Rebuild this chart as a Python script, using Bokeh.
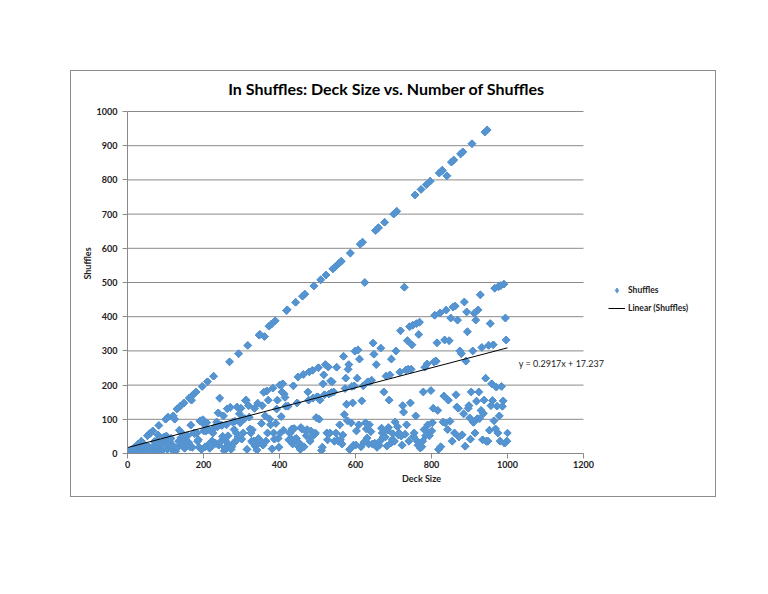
import math
from bokeh.plotting import figure
from bokeh.models import (ColumnDataSource, Range1d, SingleIntervalTicker, Label,
                          Legend, LegendItem)
from bokeh.embed import file_html
from bokeh.resources import INLINE

# ---------------- data ----------------
# Number of in-shuffles needed to restore the deck; deck sizes 2k and 2k+1
# share the same count (entry k), entry 0 is deck size 1.
shuffles_per_pair = [
    1, 2, 4, 3, 6, 10, 12, 4, 8, 18, 6, 11, 20, 18, 28, 5, 10, 12, 36, 12,
    20, 14, 12, 23, 21, 8, 52, 20, 18, 58, 60, 6, 12, 66, 22, 35, 9, 20, 30, 39,
    54, 82, 8, 28, 11, 12, 10, 36, 48, 30, 100, 51, 12, 106, 36, 36, 28, 44, 12, 24,
    110, 20, 100, 7, 14, 130, 18, 36, 68, 138, 46, 60, 28, 42, 148, 15, 24, 20, 52, 52,
    33, 162, 20, 83, 156, 18, 172, 60, 58, 178, 180, 60, 36, 40, 18, 95, 96, 12, 196, 99,
    66, 84, 20, 66, 90, 210, 70, 28, 15, 18, 24, 37, 60, 226, 76, 30, 29, 92, 78, 119,
    24, 162, 84, 36, 82, 50, 110, 8, 16, 36, 84, 131, 52, 22, 268, 135, 12, 20, 92, 30,
    70, 94, 36, 60, 136, 48, 292, 116, 90, 132, 42, 100, 60, 102, 102, 155, 156, 12, 316, 140,
    106, 72, 60, 36, 69, 30, 36, 132, 21, 28, 10, 147, 44, 346, 348, 36, 88, 140, 24, 179,
    342, 110, 36, 183, 60, 156, 372, 100, 84, 378, 14, 191, 60, 42, 388, 88, 130, 156, 44, 18,
    200, 60, 108, 180, 204, 68, 174, 164, 138, 418, 420, 138, 40, 60, 60, 43, 72, 28, 198, 73,
    42, 442, 44, 148, 224, 20, 30, 12, 76, 72, 460, 231, 20, 466, 66, 52, 70, 180, 156, 239,
    36, 66, 48, 243, 162, 490, 56, 60, 105, 166, 166, 251, 100, 156, 508, 9, 18, 204, 230, 172,
    260, 522, 60, 40, 253, 174, 60, 212, 178, 210, 540, 180, 36, 546, 60, 252, 39, 36, 556, 84,
    40, 562, 28, 54, 284, 114, 190, 220, 144, 96, 246, 260, 12, 586, 90, 196, 148, 24, 198, 299,
    25, 66, 220, 303, 84, 276, 612, 20, 154, 618, 198, 33, 500, 90, 72, 45, 210, 28, 84, 210,
    64, 214, 28, 323, 290, 30, 652, 260, 18, 658, 660, 24, 36, 308, 74, 60, 48, 180, 676, 48,
    226, 22, 68, 76, 156, 230, 30, 276, 40, 58, 700, 36, 92, 300, 708, 78, 55, 60, 238, 359,
    51, 24, 140, 121, 486, 56, 244, 84, 330, 246, 36, 371, 148, 246, 318, 375, 50, 60, 756, 110,
    380, 36, 24, 348, 384, 16, 772, 20, 36, 180, 70, 252, 52, 786, 262, 84, 60, 52, 796, 184,
    66, 90, 132, 268, 404, 270, 270, 324, 126, 12, 820, 411, 20, 826, 828, 92, 168, 332, 90, 419,
    812, 70, 156, 330, 94, 396, 852, 36, 428, 858, 60, 431, 172, 136, 390, 132, 48, 300, 876, 292,
    55, 882, 116, 443, 21, 270, 414, 356, 132, 140, 104, 42, 180, 906, 300, 91, 410, 60, 390, 153,
    102, 420, 180, 102, 464, 126, 310, 40, 117, 156, 940, 220, 36, 946, 36, 316, 68, 380, 140, 204,
    155, 318, 96, 483, 72, 194, 138, 60, 488, 110, 36, 491, 196, 138, 154, 495, 30, 396, 332, 36,
    60,
]
deck_sizes = list(range(1, 1001))
shuffles = [shuffles_per_pair[n // 2] for n in deck_sizes]

x_axis_max = 1200
y_axis_max = 1000
y_gridlines = [100, 200, 300, 400, 500, 600, 700, 800, 900, 1000]

trend_slope = 0.2917
trend_intercept = 17.237
trend_text = "y = 0.2917x + 17.237"

title_text = "In Shuffles: Deck Size vs. Number of Shuffles"
x_title = "Deck Size"
y_title = "Shuffles"
series_name = "Shuffles"
trend_name = "Linear (Shuffles)"

# ---------------- styles / layout ----------------
FONT = "Lato"
BLUE = "#5594D0"
GRID = "#8a8a8a"
W, H = 646, 427                   # chart box
BL, BB, BT, BR = 56, 45, 2, 2     # borders around the (extended) frame
XS = 456 / x_axis_max             # px per x unit
YS = 342 / y_axis_max             # px per y unit
x_end = (W - BL - BR) / XS
y_end = (H - BB - BT) / YS

src = ColumnDataSource(dict(deck=deck_sizes, shuffles=shuffles))

p = figure(width=W, height=H, output_backend="svg", toolbar_location=None,
           x_range=Range1d(0, x_end), y_range=Range1d(0, y_end),
           min_border_left=BL, min_border_right=BR, min_border_top=BT,
           min_border_bottom=BB, margin=(70, 0, 0, 70),
           styles={"border": "1px solid #8c8c8c"})
p.outline_line_color = None
p.background_fill_color = "white"
p.border_fill_color = "white"
p.xgrid.visible = False
p.ygrid.visible = False

p.xaxis.ticker = SingleIntervalTicker(interval=200)
p.yaxis.ticker = SingleIntervalTicker(interval=100)
p.xaxis.bounds = (0, x_axis_max)
p.yaxis.bounds = (0, y_axis_max)

for ax in (p.xaxis[0], p.yaxis[0]):
    ax.axis_line_color = GRID
    ax.major_tick_line_color = GRID
    ax.minor_tick_line_color = None
    ax.major_tick_in = 0
    ax.major_tick_out = 5
    ax.major_label_text_font = FONT
    ax.major_label_text_font_style = "bold"
    ax.major_label_text_font_size = "9px"
    ax.major_label_text_color = "#222222"
    ax.axis_label_text_font = FONT
    ax.axis_label_text_font_style = "bold"
    ax.axis_label_text_font_size = "9px"
    ax.axis_label_text_color = "#222222"

p.xaxis.axis_label = x_title
p.yaxis.axis_label = y_title
p.xaxis.major_label_standoff = 2
p.xaxis.axis_label_standoff = 2
p.yaxis.major_label_standoff = 5
p.yaxis.axis_label_standoff = 1

# horizontal gridlines across the plot area only
p.segment(x0=[0] * len(y_gridlines), x1=[x_axis_max] * len(y_gridlines),
          y0=y_gridlines, y1=y_gridlines, line_color=GRID, line_width=1)

# diamond glyphs used for the legend swatch (hidden under the main markers)
swatch = p.scatter(x="deck", y="shuffles", source=src, marker="diamond",
                   size=7, fill_color=BLUE, line_color=BLUE)
pts = p.scatter(x="deck", y="shuffles", source=src, marker="square",
                angle=math.pi / 4, size=5.3, fill_color=BLUE, line_color=BLUE)

tx = [min(deck_sizes) - 1, max(deck_sizes)]
ty = [trend_slope * v + trend_intercept for v in tx]
trend = p.line(tx, ty, line_color="black", line_width=1)

p.add_layout(Label(x=1142, y=262, text=trend_text, text_align="center",
                   text_baseline="middle", text_font=FONT,
                   text_font_size="9px", text_color="#222222"))

p.add_layout(Label(x=682, y=1068, text=title_text, text_align="center",
                   text_baseline="middle", text_font=FONT,
                   text_font_style="bold", text_font_size="16px",
                   text_color="black"))

legend = Legend(items=[LegendItem(label=series_name, renderers=[swatch]),
                       LegendItem(label=trend_name, renderers=[trend])],
                location=(481, 139), orientation="vertical",
                border_line_color=None, background_fill_alpha=0,
                padding=0, margin=0, spacing=6, glyph_width=17, glyph_height=12,
                label_height=12, label_standoff=3,
                label_text_font=FONT, label_text_font_size="8.5px",
                label_text_font_style="bold", label_text_color="#222222")
p.add_layout(legend, "center")

open("out.html", "w").write(file_html(p, INLINE))
